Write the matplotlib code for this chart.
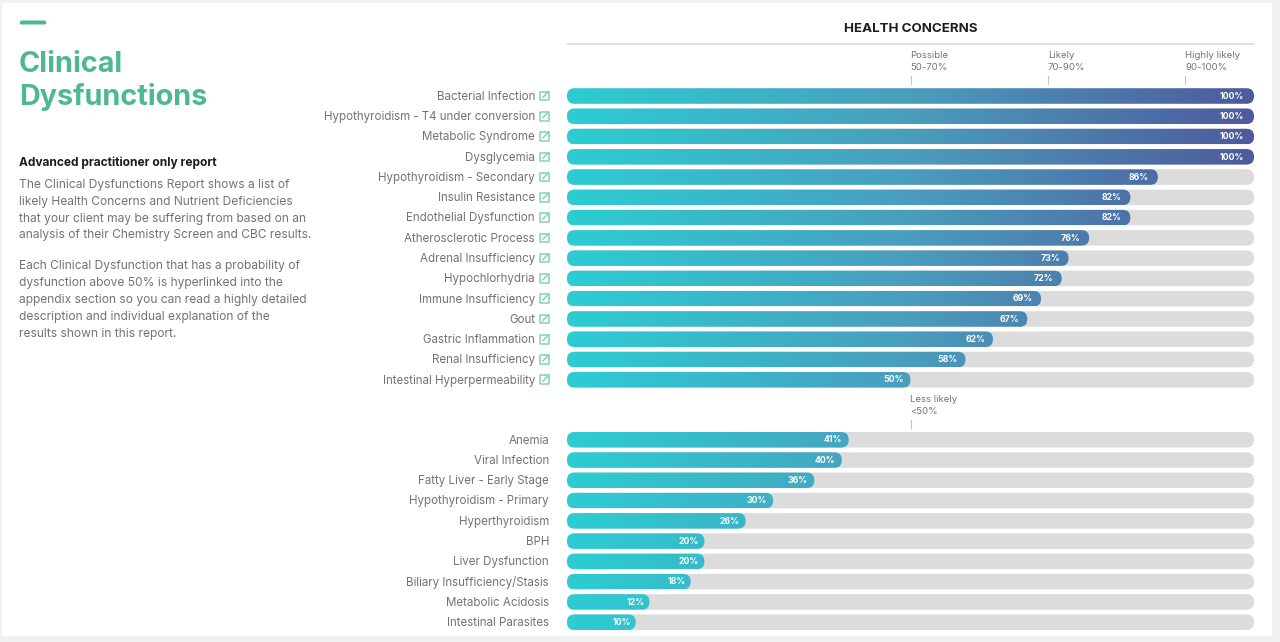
import matplotlib.pyplot as plt
import numpy as np
from matplotlib.colors import LinearSegmentedColormap
from matplotlib.patches import FancyBboxPatch, Rectangle
from matplotlib.transforms import blended_transform_factory

plt.rcParams['font.family'] = ['Inter', 'DejaVu Sans']

linked_names = ['Bacterial Infection', 'Hypothyroidism - T4 under conversion', 'Metabolic Syndrome',
                'Dysglycemia', 'Hypothyroidism - Secondary', 'Insulin Resistance', 'Endothelial Dysfunction',
                'Atherosclerotic Process', 'Adrenal Insufficiency', 'Hypochlorhydria', 'Immune Insufficiency',
                'Gout', 'Gastric Inflammation', 'Renal Insufficiency', 'Intestinal Hyperpermeability']
linked_values = [100, 100, 100, 100, 86, 82, 82, 76, 73, 72, 69, 67, 62, 58, 50]
other_names = ['Anemia', 'Viral Infection', 'Fatty Liver - Early Stage', 'Hypothyroidism - Primary',
               'Hyperthyroidism', 'BPH', 'Liver Dysfunction', 'Biliary Insufficiency/Stasis',
               'Metabolic Acidosis', 'Intestinal Parasites']
other_values = [41, 40, 36, 30, 26, 20, 20, 18, 12, 10]
bands = ['Possible\n50-70%', 'Likely\n70-90%', 'Highly likely\n90-100%']
band_starts = [50, 70, 90]

GREEN = '#4db893'
GREY_TEXT = '#737373'
fade = LinearSegmentedColormap.from_list('fade', ['#2ccdd3', '#4a9dbd', '#4e5a9d'])

W, H = 1280, 642
fig = plt.figure(figsize=(W / 100, H / 100), dpi=100, facecolor='#f1f1f1')

# page coordinates in pixels, y going down
page = fig.add_axes([0, 0, 1, 1])
page.set_xlim(0, W)
page.set_ylim(H, 0)
page.axis('off')
page.add_patch(Rectangle((2, 3), 1270, 633, fc='white', ec='none'))

# chart axes: x is percent, y is row number
left, right, top, bottom = 567, 1254, 86, 632
row_h = 20.27
ax = fig.add_axes([left / W, 1 - bottom / H, (right - left) / W, (bottom - top) / H])
ax.patch.set_alpha(0)
ax.axis('off')
ax.set_xlim(0, 100)
ax.set_ylim((bottom - 96) / row_h, (top - 96) / row_h)

px_per_pct = (right - left) / 100
bar_h = 15.5 / row_h
radius = 7.5 / px_per_pct
aspect = px_per_pct / row_h
ramp = fade(np.linspace(0, 1, 512))[None, :, :3]


def pill(y, value, **kw):
    p = FancyBboxPatch((0, y - bar_h / 2), value, bar_h,
                       boxstyle=f'round,pad=0,rounding_size={radius}',
                       mutation_aspect=aspect, lw=0, **kw)
    ax.add_patch(p)
    return p


def link_icon(y):
    # small open square with an arrow leaving the top right corner
    x0, x1 = 540, 548.5
    y0, y1 = y - 4.3, y + 4.3
    icon = dict(color='#84d2b7', lw=1.1, solid_joinstyle='round')
    page.plot([x0 + 4, x0, x0, x1, x1], [y0, y0, y1, y1, y0 + 4], **icon)
    page.plot([x0 + 3, x1], [y1 - 3, y0], **icon)
    page.plot([x1 - 3.5, x1, x1], [y0, y0, y0 + 3.5], **icon)


def draw_row(y, name, value, linked):
    pill(y, 100, fc='#dcdcdc')
    img = ax.imshow(ramp, extent=(0, 100, y + bar_h / 2, y - bar_h / 2), aspect='auto', zorder=2)
    img.set_clip_path(pill(y, value, fc='none'))
    # the value sits further from the bar end as the bar gets longer
    inset = (4.3 + 0.057 * value) / px_per_pct
    ax.text(value - inset, y + 0.01, f'{value}%', color='white', fontsize=6.3, fontweight='bold',
            ha='right', va='center', zorder=3)
    y_px = 96 + y * row_h
    label_x = 535 if linked else 549
    page.text(label_x, y_px + 0.8, name, color=GREY_TEXT, fontsize=8.3, ha='right', va='center')
    if linked:
        link_icon(y_px)


gap_row = len(linked_names) - 1 + 2.96
for i, (name, value) in enumerate(zip(linked_names, linked_values)):
    draw_row(i, name, value, True)
for i, (name, value) in enumerate(zip(other_names, other_values)):
    draw_row(gap_row + i, name, value, False)
ax.set_xlim(0, 100)
ax.set_ylim((bottom - 96) / row_h, (top - 96) / row_h)

# band markers use percent for x and page pixels for y
marks = blended_transform_factory(ax.transData, page.transData)
for label, start in zip(bands, band_starts):
    page.text(start, 61.5, label, transform=marks, color=GREY_TEXT, fontsize=6.9, ha='left', va='center',
              linespacing=1.45)
    page.plot([start, start], [76, 84], transform=marks, color='#c4c4c4', lw=0.8)
page.text(50, 405.5, 'Less likely\n<50%', transform=marks, color=GREY_TEXT, fontsize=6.9, ha='left', va='center',
          linespacing=1.45)
page.plot([50, 50], [420, 428], transform=marks, color='#c4c4c4', lw=0.8)

page.plot([0, 100], [44, 44], transform=marks, color='#d9d9d9', lw=1.1)
page.text(50, 29, 'HEALTH CONCERNS', transform=marks, color='#1c1c1c', fontsize=9.6, fontweight='bold',
          ha='center', va='center')

# left column
page.add_patch(FancyBboxPatch((20, 20.5), 26, 4, boxstyle='round,pad=0,rounding_size=1.5', fc=GREEN, lw=0))
page.text(19, 64, 'Clinical', color=GREEN, fontsize=20.7, fontweight='bold', va='center')
page.text(19, 97, 'Dysfunctions', color=GREEN, fontsize=20.7, fontweight='bold', va='center')
page.text(19, 162.5, 'Advanced practitioner only report', color='#1c1c1c', fontsize=8.6, fontweight='bold',
          va='center')

body_lines = [(184.8, 'The Clinical Dysfunctions Report shows a list of'),
              (201.8, 'likely Health Concerns and Nutrient Deficiencies'),
              (218.8, 'that your client may be suffering from based on an'),
              (234.8, 'analysis of their Chemistry Screen and CBC results.'),
              (265.8, 'Each Clinical Dysfunction that has a probability of'),
              (282.8, 'dysfunction above 50% is hyperlinked into the'),
              (299.8, 'appendix section so you can read a highly detailed'),
              (316.8, 'description and individual explanation of the'),
              (333.8, 'results shown in this report.')]
for y, line in body_lines:
    page.text(19, y, line, color=GREY_TEXT, fontsize=8.65, va='center')

fig.savefig('out.png', dpi=100, facecolor=fig.get_facecolor())
